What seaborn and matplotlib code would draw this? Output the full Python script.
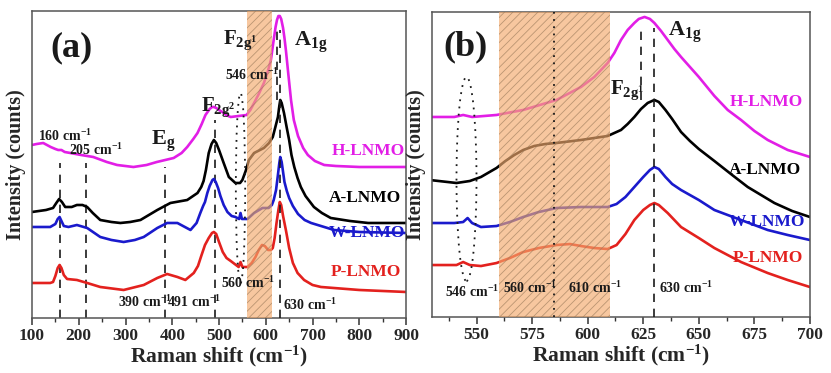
import numpy as np
import matplotlib
matplotlib.use('Agg')
import matplotlib.pyplot as plt
from matplotlib.patches import Ellipse
from matplotlib.ticker import MultipleLocator
import seaborn as sns

# ---- panel (a) spectra (arbitrary intensity units) ----
h_a_shift = [100, 110, 124, 140, 150, 156, 163, 170, 182, 205, 231, 260, 282, 317, 345, 367, 403,
             420, 432, 445, 454, 463, 471, 480, 485, 489, 494, 500, 507, 515, 525, 542, 559, 567,
             575, 585, 596, 604, 611, 616, 621, 624, 627, 630, 633, 637, 640, 643, 648, 654, 660,
             669, 680, 690, 705, 725, 750, 800, 900]
h_a_int = [173, 174, 175, 171, 169, 168, 168, 166, 165, 163, 161, 156, 153, 151, 153, 156, 160,
           165, 171, 179, 185, 194, 203, 209, 211, 211, 210, 208, 206, 203, 201, 202, 203, 208,
           215, 224, 235, 246, 258, 275, 291, 298, 302, 302, 299, 290, 280, 268, 245, 218, 198,
           182, 170, 163, 157, 153, 152, 151, 151]

a_a_shift = [100, 130, 145, 152, 158, 164, 171, 185, 196, 208, 218, 230, 246, 270, 289, 310, 332,
             350, 368, 396, 432, 454, 462, 467, 472, 478, 484, 489, 494, 500, 510, 521, 535, 545,
             550, 557, 564, 575, 596, 607, 615, 620, 626, 629, 631, 634, 639, 645, 650, 655, 661,
             668, 675, 685, 703, 720, 739, 780, 819, 900]
a_a_int = [106, 108, 110, 115, 119, 116, 111, 111, 113, 113, 111, 105, 98, 96, 95, 96, 98,
           103, 108, 115, 118, 125, 131, 137, 148, 165, 174, 178, 175, 168, 155, 141, 135, 135,
           138, 147, 158, 165, 170, 175, 181, 190, 201, 212, 218, 215, 205, 190, 178, 163, 151,
           140, 131, 122, 111, 105, 100, 97, 95, 95]

w_a_shift = [100, 139, 150, 155, 159, 163, 168, 178, 196, 218, 246, 270, 296, 320, 339, 368, 389,
             411, 439, 452, 460, 466, 470, 475, 480, 486, 489, 493, 498, 503, 510, 518, 527, 535,
             543, 546, 549, 561, 575, 593, 606, 613, 617, 622, 626, 629, 631, 634, 637, 640, 645,
             650, 658, 669, 683, 697, 746, 800, 900]
w_a_int = [91, 91, 94, 99, 101, 97, 92, 91, 93, 90, 81, 78, 76, 78, 81, 90, 95,
           95, 88, 95, 105, 112, 116, 125, 132, 138, 139, 136, 130, 122, 113, 106, 102, 101,
           99, 105, 99, 99, 105, 110, 110, 113, 118, 128, 143, 155, 161, 156, 146, 136, 127,
           120, 112, 104, 98, 95, 88, 86, 85]

p_a_shift = [100, 139, 145, 150, 155, 159, 163, 168, 175, 196, 218, 246, 296, 339, 368, 389, 411,
             428, 446, 455, 462, 470, 478, 485, 489, 494, 500, 508, 516, 525, 542, 546, 550, 561,
             570, 578, 585, 592, 598, 605, 611, 615, 619, 623, 627, 630, 633, 637, 643, 650, 658,
             668, 682, 700, 718, 800, 900]
p_a_int = [35, 35, 36, 42, 50, 53, 50, 43, 39, 38, 35, 31, 28, 33, 40, 44, 41,
           38, 45, 52, 62, 73, 80, 85, 86, 84, 76, 66, 60, 57, 51, 56, 51, 51,
           55, 61, 68, 73, 72, 68, 68, 70, 80, 95, 108, 116, 113, 102, 88, 70, 55,
           45, 38, 33, 31, 28, 26]

# ---- panel (b) zoomed spectra ----
h_b_shift = [529, 540, 544, 548, 559, 571, 586, 597, 603, 609, 612, 615, 618, 621, 623, 625.6,
             628, 630, 633, 636, 639, 642, 646, 650, 657, 663, 669, 675, 681, 690, 700]
h_b_int = [200, 200, 202, 200, 202, 207, 217, 230, 240, 254, 264, 277, 287, 294, 298, 300,
           298, 294, 286, 277, 268, 260, 250, 240, 221, 207, 197, 186, 177, 167, 160]

a_b_shift = [529, 541, 547, 552, 559, 563, 567, 571, 576, 581, 586, 597, 609, 615, 618, 621,
             624, 627, 630, 632, 635, 638, 642, 646, 650, 657, 665, 672, 684, 692, 700]
a_b_int = [137, 134, 136, 140, 149, 156, 162, 167, 171, 173, 174, 177, 181, 187, 193, 200,
           208, 214, 217, 215, 207, 198, 185, 176, 168, 156, 142, 130, 114, 106, 100]

w_b_shift = [529, 540, 544, 546, 548, 552, 559, 565, 571, 578, 586, 597, 609, 613, 617, 621,
             625, 628, 630, 632, 635, 638, 642, 646, 650, 657, 663, 669, 681, 690, 700]
w_b_int = [94, 94, 95, 99, 94, 90, 91, 95, 100, 105, 109, 110, 110, 113, 120, 130,
           140, 147, 150, 148, 140, 133, 127, 122, 117, 107, 102, 97, 87, 82, 77]

p_b_shift = [529, 541, 544, 547, 552, 559, 565, 571, 578, 586, 592, 597, 603, 609, 613, 617,
             621, 625, 628, 630, 632, 636, 642, 650, 657, 663, 669, 681, 690, 700]
p_b_int = [52, 52, 55, 52, 51, 54, 59, 65, 69, 72, 73, 71, 69, 68, 72, 83,
           97, 107, 112, 114, 112, 104, 90, 79, 69, 62, 55, 44, 37, 30]

colors = {'H': '#e21ee6', 'A': '#000000', 'W': '#1a1acc', 'P': '#e3211e'}

# reference lines in panel (a)
a_dash_pos = [160, 215, 385, 491]
a_dash_top = [155, 155, 151, 198]

sns.set_theme(style='ticks')
plt.rcParams['font.family'] = ['Liberation Serif', 'DejaVu Serif']
plt.rcParams['font.weight'] = 'bold'
plt.rcParams['mathtext.default'] = 'regular'
plt.rcParams['hatch.linewidth'] = 0.6
plt.rcParams['hatch.color'] = '#9a7a5a'

fig = plt.figure(figsize=(8.31, 3.73), dpi=100)
ax1 = fig.add_axes([0.0385, 0.1475, 0.4501, 0.823])
ax2 = fig.add_axes([0.5199, 0.150, 0.4548, 0.818])

def draw(ax, data):
    for key, xs, ys in data:
        sns.lineplot(x=xs, y=ys, ax=ax, color=colors[key], lw=1.9, estimator=None,
                     sort=False, legend=False, zorder=2)

draw(ax1, [('H', h_a_shift, h_a_int), ('A', a_a_shift, a_a_int),
           ('W', w_a_shift, w_a_int), ('P', p_a_shift, p_a_int)])
draw(ax2, [('H', h_b_shift, h_b_int), ('A', a_b_shift, a_b_int),
           ('W', w_b_shift, w_b_int), ('P', p_b_shift, p_b_int)])

for ax, lo, hi in [(ax1, 560, 613), (ax2, 560, 610)]:
    ax.axvspan(lo, hi, facecolor='#f4aa6c', alpha=0.65, hatch='////',
               edgecolor='#9a7a5a', lw=0, zorder=3)

dash = (0, (5, 4))
dot = (0, (1, 3))
# panel (a) markers
for xp, top in zip(a_dash_pos, a_dash_top):
    ax1.plot([xp, xp], [0, top], color='k', ls=dash, lw=1.2, zorder=1)
ax1.plot([624, 624], [218, 288], color='k', ls=dash, lw=1.2, zorder=4)
ax1.plot([631, 631], [0, 288], color='k', ls=dash, lw=1.2, zorder=4)
ax1.add_patch(Ellipse((546, 130), 20, 190, fill=False, ec='k', ls=dot, lw=1.3, zorder=4))

# panel (b) markers
ax2.plot([624.2, 624.2], [217, 289], color='k', ls=dash, lw=1.2, zorder=4)
ax2.plot([630, 630], [0, 289], color='k', ls=dash, lw=1.2, zorder=4)
ax2.plot([585, 585], [0, 305], color='k', ls=dot, lw=1.3, zorder=4)
ax2.add_patch(Ellipse((545.5, 138), 9, 204, fill=False, ec='k', ls=dot, lw=1.3, zorder=4))

ax1.set_xlim(100, 900)
ax1.set_ylim(0, 307)
ax2.set_xlim(530, 700)
ax2.set_ylim(0, 305)
ax1.xaxis.set_major_locator(MultipleLocator(100))
ax1.xaxis.set_minor_locator(MultipleLocator(50))
ax2.xaxis.set_major_locator(MultipleLocator(25))
ax2.xaxis.set_minor_locator(MultipleLocator(12.5))

for ax in (ax1, ax2):
    ax.set_yticks([])
    ax.tick_params(axis='x', which='major', direction='out', length=5, width=1.1,
                   labelsize=12.5, pad=2, color='#333333')
    ax.tick_params(axis='x', which='minor', direction='out', length=3, width=1.0, color='#333333')
    for lab in ax.get_xticklabels():
        lab.set_fontweight('bold')
    for sp in ax.spines.values():
        sp.set_color('#555555')
        sp.set_linewidth(1.1)
    ax.set_xlabel('Raman shift (cm$^{-1}$)', fontsize=15.5, fontweight='bold', labelpad=0)
    ax.set_ylabel('Intensity (counts)', fontsize=14.5, fontweight='bold', labelpad=4)

# text labels (a)
t = dict(fontweight='bold', color='k')
ax1.text(184, 270, '(a)', fontsize=26, ha='center', va='center', **t)
ax1.text(113, 182, '160 cm$^{-1}$', fontsize=10, ha='left', va='center', **t)
ax1.text(180, 168, '205 cm$^{-1}$', fontsize=10, ha='left', va='center', **t)
ax1.text(355, 177, 'E$_g$', fontsize=16, ha='left', va='center', **t)
ax1.text(462, 211, 'F$_{2g^{2}}$', fontsize=15, ha='left', va='center', **t)
ax1.text(513, 243, '546 cm$^{-1}$', fontsize=10, ha='left', va='center', **t)
ax1.text(508, 278, 'F$_{2g^{1}}$', fontsize=15, ha='left', va='center', **t)
ax1.text(660, 276, 'A$_{1g}$', fontsize=16, ha='left', va='center', **t)
ax1.text(898, 167, 'H-LNMO', fontsize=12.5, ha='right', va='center', color=colors['H'], fontweight='bold')
ax1.text(890, 120, 'A-LNMO', fontsize=12.5, ha='right', va='center', color=colors['A'], fontweight='bold')
ax1.text(898, 85, 'W-LNMO', fontsize=12.5, ha='right', va='center', color=colors['W'], fontweight='bold')
ax1.text(890, 46, 'P-LNMO', fontsize=12.5, ha='right', va='center', color=colors['P'], fontweight='bold')
ax1.text(283, 16, '390 cm$^{-1}$', fontsize=10, ha='left', va='center', **t)
ax1.text(389, 16, '491 cm$^{-1}$', fontsize=10, ha='left', va='center', **t)
ax1.text(504, 35, '560 cm$^{-1}$', fontsize=10, ha='left', va='center', **t)
ax1.text(636, 13, '630 cm$^{-1}$', fontsize=10, ha='left', va='center', **t)

# text labels (b)
ax2.text(545, 270, '(b)', fontsize=26, ha='center', va='center', **t)
ax2.text(636, 285, 'A$_{1g}$', fontsize=16, ha='left', va='center', **t)
ax2.text(610, 227, 'F$_{2g^{1}}$', fontsize=15, ha='left', va='center', **t)
ax2.text(697, 215, 'H-LNMO', fontsize=12.5, ha='right', va='center', color=colors['H'], fontweight='bold')
ax2.text(696, 147, 'A-LNMO', fontsize=12.5, ha='right', va='center', color=colors['A'], fontweight='bold')
ax2.text(698, 95, 'W-LNMO', fontsize=12.5, ha='right', va='center', color=colors['W'], fontweight='bold')
ax2.text(697, 59, 'P-LNMO', fontsize=12.5, ha='right', va='center', color=colors['P'], fontweight='bold')
ax2.text(536, 25, '546 cm$^{-1}$', fontsize=10, ha='left', va='center', **t)
ax2.text(562, 29, '560 cm$^{-1}$', fontsize=10, ha='left', va='center', **t)
ax2.text(591, 29, '610 cm$^{-1}$', fontsize=10, ha='left', va='center', **t)
ax2.text(632, 29, '630 cm$^{-1}$', fontsize=10, ha='left', va='center', **t)

fig.savefig('out.png', dpi=100)
